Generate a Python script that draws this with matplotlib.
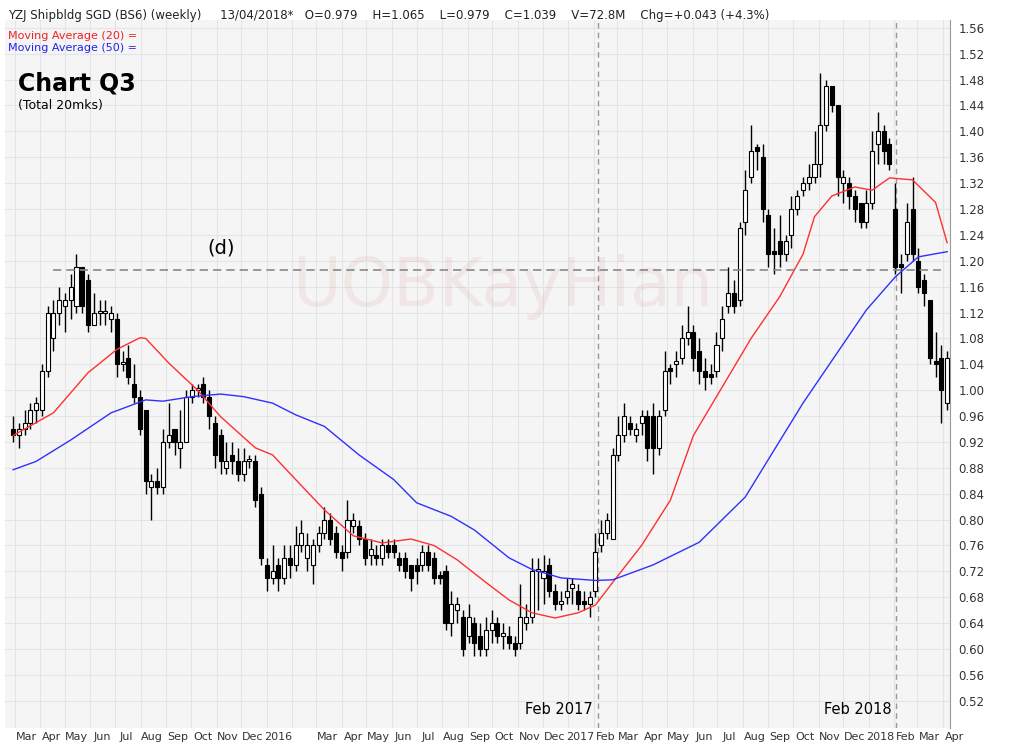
import pandas as pd
import numpy as np
import matplotlib
matplotlib.use("Agg")
import matplotlib.pyplot as plt
import matplotlib.transforms as mtransforms

# Weekly candles (open, close, high, low), Mar 2015 - Apr 2018
opens = [0.94, 0.93, 0.94, 0.95, 0.97, 0.97, 1.03, 1.08, 1.12, 1.13, 1.14, 1.13, 1.19, 1.17, 1.10, 1.12, 1.12, 1.11, 1.11, 1.04,
         1.05, 1.01, 0.99, 0.97, 0.85, 0.86, 0.85, 0.92, 0.94, 0.91, 0.92, 0.99, 1.00, 1.01, 0.99, 0.95, 0.93, 0.88, 0.90, 0.89,
         0.87, 0.89, 0.89, 0.84, 0.73, 0.71, 0.73, 0.71, 0.74, 0.73, 0.76,
         0.74, 0.73, 0.76, 0.78, 0.80, 0.78, 0.75, 0.75, 0.79, 0.79, 0.77, 0.745, 0.745, 0.74, 0.76, 0.76, 0.74, 0.74, 0.73, 0.73,
         0.73, 0.75, 0.74, 0.715, 0.72, 0.64, 0.66, 0.65, 0.62, 0.64, 0.62, 0.60, 0.63, 0.64, 0.62, 0.62, 0.61, 0.61, 0.64, 0.65,
         0.72, 0.71, 0.73, 0.69, 0.67, 0.68, 0.695, 0.69, 0.675, 0.67, 0.69, 0.76, 0.78,
         0.77, 0.90, 0.93, 0.95, 0.93, 0.95, 0.96, 0.96, 0.91, 0.97, 1.035, 1.04, 1.05, 1.08, 1.09, 1.06, 1.03, 1.025, 1.03, 1.08,
         1.13, 1.15, 1.14, 1.26, 1.33, 1.375, 1.36, 1.27, 1.215, 1.23, 1.21, 1.24, 1.28, 1.31, 1.32, 1.33, 1.35, 1.41, 1.47, 1.44,
         1.32, 1.32, 1.30, 1.29, 1.26, 1.29, 1.38, 1.40, 1.38, 1.28, 1.195, 1.21, 1.28, 1.20, 1.17, 1.14, 1.045, 1.05, 0.98]
closes = [0.93, 0.94, 0.95, 0.97, 0.98, 1.03, 1.12, 1.12, 1.14, 1.14, 1.16, 1.19, 1.13, 1.10, 1.12, 1.12, 1.12, 1.12, 1.04, 1.04,
          1.02, 0.99, 0.94, 0.86, 0.86, 0.85, 0.92, 0.93, 0.92, 0.92, 0.99, 1.00, 1.00, 0.99, 0.96, 0.90, 0.89, 0.89, 0.89, 0.87,
          0.89, 0.89, 0.83, 0.74, 0.71, 0.72, 0.71, 0.74, 0.73, 0.76, 0.78,
          0.76, 0.76, 0.78, 0.80, 0.77, 0.75, 0.74, 0.80, 0.80, 0.77, 0.74, 0.755, 0.74, 0.76, 0.75, 0.75, 0.73, 0.72, 0.71, 0.72,
          0.75, 0.73, 0.71, 0.71, 0.64, 0.67, 0.67, 0.60, 0.65, 0.61, 0.60, 0.63, 0.64, 0.62, 0.625, 0.61, 0.60, 0.65, 0.65, 0.72,
          0.72, 0.72, 0.69, 0.67, 0.675, 0.69, 0.70, 0.67, 0.67, 0.68, 0.75, 0.78, 0.80,
          0.90, 0.93, 0.96, 0.94, 0.94, 0.96, 0.91, 0.91, 0.96, 1.03, 1.03, 1.045, 1.08, 1.09, 1.05, 1.03, 1.02, 1.02, 1.07, 1.11,
          1.15, 1.13, 1.25, 1.31, 1.37, 1.37, 1.28, 1.21, 1.21, 1.21, 1.23, 1.28, 1.30, 1.32, 1.33, 1.35, 1.41, 1.47, 1.44, 1.33,
          1.33, 1.30, 1.28, 1.26, 1.29, 1.37, 1.40, 1.37, 1.35, 1.19, 1.19, 1.26, 1.21, 1.16, 1.15, 1.05, 1.04, 1.00, 1.05]
highs = [0.96, 0.95, 0.97, 0.98, 0.99, 1.04, 1.13, 1.14, 1.16, 1.15, 1.18, 1.21, 1.19, 1.18, 1.15, 1.14, 1.14, 1.13, 1.12, 1.06,
         1.07, 1.04, 1.00, 0.97, 0.87, 0.88, 0.94, 0.98, 0.94, 0.97, 1.00, 1.01, 1.01, 1.02, 1.00, 0.96, 0.94, 0.92, 0.92, 0.91,
         0.91, 0.90, 0.90, 0.85, 0.74, 0.76, 0.74, 0.76, 0.76, 0.79, 0.80,
         0.78, 0.77, 0.79, 0.82, 0.81, 0.79, 0.76, 0.83, 0.81, 0.80, 0.78, 0.77, 0.76, 0.77, 0.77, 0.77, 0.75, 0.75, 0.73, 0.74,
         0.76, 0.76, 0.75, 0.72, 0.73, 0.69, 0.68, 0.66, 0.67, 0.65, 0.64, 0.65, 0.66, 0.65, 0.64, 0.635, 0.62, 0.70, 0.67, 0.74,
         0.74, 0.745, 0.74, 0.70, 0.69, 0.71, 0.71, 0.70, 0.69, 0.69, 0.78, 0.80, 0.81,
         0.91, 0.96, 0.98, 0.96, 0.95, 0.97, 0.97, 0.98, 0.97, 1.06, 1.04, 1.06, 1.10, 1.13, 1.10, 1.08, 1.05, 1.04, 1.09, 1.13,
         1.19, 1.17, 1.26, 1.34, 1.41, 1.38, 1.38, 1.28, 1.25, 1.27, 1.24, 1.30, 1.31, 1.33, 1.35, 1.40, 1.49, 1.48, 1.47, 1.36,
         1.34, 1.33, 1.31, 1.29, 1.31, 1.40, 1.43, 1.41, 1.39, 1.32, 1.21, 1.29, 1.33, 1.22, 1.18, 1.14, 1.09, 1.07, 1.06]
lows = [0.92, 0.91, 0.93, 0.94, 0.95, 0.96, 1.02, 1.06, 1.10, 1.09, 1.11, 1.12, 1.12, 1.09, 1.10, 1.10, 1.10, 1.09, 1.02, 1.03,
        1.01, 0.98, 0.93, 0.84, 0.80, 0.84, 0.84, 0.91, 0.90, 0.88, 0.92, 0.98, 0.99, 0.98, 0.94, 0.88, 0.87, 0.87, 0.87, 0.86,
        0.86, 0.88, 0.82, 0.73, 0.69, 0.70, 0.69, 0.70, 0.71, 0.72, 0.75,
        0.72, 0.70, 0.75, 0.77, 0.76, 0.74, 0.72, 0.74, 0.78, 0.76, 0.73, 0.73, 0.73, 0.73, 0.74, 0.74, 0.72, 0.71, 0.69, 0.70,
        0.72, 0.72, 0.70, 0.70, 0.63, 0.62, 0.64, 0.59, 0.61, 0.59, 0.59, 0.59, 0.61, 0.61, 0.60, 0.60, 0.59, 0.60, 0.63, 0.64,
        0.66, 0.67, 0.68, 0.66, 0.66, 0.67, 0.67, 0.66, 0.66, 0.65, 0.68, 0.75, 0.77,
        0.77, 0.89, 0.92, 0.93, 0.92, 0.93, 0.89, 0.87, 0.90, 0.96, 1.01, 1.02, 1.04, 1.07, 1.03, 1.01, 1.00, 1.01, 1.02, 1.06,
        1.12, 1.12, 1.13, 1.24, 1.32, 1.34, 1.26, 1.19, 1.18, 1.19, 1.20, 1.22, 1.27, 1.30, 1.31, 1.32, 1.33, 1.40, 1.43, 1.30,
        1.29, 1.28, 1.26, 1.25, 1.25, 1.28, 1.35, 1.35, 1.34, 1.18, 1.15, 1.20, 1.20, 1.15, 1.13, 1.04, 1.02, 0.95, 0.97]

# Moving averages (week index, value)
ma20_weeks = [0, 7, 13, 18, 22, 23, 27, 32, 36, 42, 45, 49, 54, 59, 64, 69, 73, 77, 82, 86, 90, 94, 98, 101, 104, 109, 114,
              118, 123, 128, 133, 137, 139, 142, 146, 149, 152, 156, 160, 162]
ma20_vals = [0.93, 0.965, 1.027, 1.063, 1.081, 1.08, 1.042, 1.0, 0.959, 0.911, 0.90, 0.862, 0.815, 0.775, 0.764, 0.77, 0.76,
             0.738, 0.703, 0.676, 0.656, 0.648, 0.656, 0.668, 0.703, 0.76, 0.83, 0.93, 1.005, 1.08, 1.145, 1.21, 1.268, 1.30,
             1.314, 1.309, 1.328, 1.325, 1.29, 1.228]
ma50_weeks = [0, 4, 10, 17, 23, 26, 31, 36, 40, 45, 49, 54, 60, 66, 70, 76, 80, 86, 90, 95, 101, 104, 111, 119, 127, 137,
              148, 153, 157, 162]
ma50_vals = [0.877, 0.89, 0.923, 0.965, 0.985, 0.983, 0.99, 0.994, 0.99, 0.98, 0.962, 0.944, 0.90, 0.862, 0.826, 0.805,
             0.784, 0.741, 0.723, 0.71, 0.706, 0.707, 0.73, 0.765, 0.835, 0.98, 1.124, 1.175, 1.206, 1.214]

month_labels = ["Mar", "Apr", "May", "Jun", "Jul", "Aug", "Sep", "Oct", "Nov", "Dec", "2016", "", "Mar", "Apr", "May",
                "Jun", "Jul", "Aug", "Sep", "Oct", "Nov", "Dec", "2017", "Feb", "Mar", "Apr", "May", "Jun", "Jul", "Aug",
                "Sep", "Oct", "Nov", "Dec", "2018", "Feb", "Mar", "Apr"]
y_ticks = np.round(np.arange(0.52, 1.561, 0.04), 2)
resistance = 1.185
start = pd.Timestamp("2015-02-27")

fig = plt.figure(figsize=(10.24, 7.44), dpi=100)
ax = fig.add_axes([5 / 1024, 16 / 744, 945 / 1024, 708 / 744])
ax.set_facecolor("#f5f5f5")

n = len(closes)
x = np.arange(n)
for i in range(n):
    o, c, h, l = opens[i], closes[i], highs[i], lows[i]
    ax.vlines(x[i], l, h, color="black", lw=1, zorder=3)
    up = c >= o
    ax.bar(x[i], abs(c - o) if abs(c - o) > 0.002 else 0.003, bottom=min(o, c), width=0.7,
           color="white" if up else "black", edgecolor="black", lw=0.8, zorder=4)

ax.plot(ma20_weeks, ma20_vals, color="#ff3030", lw=1, zorder=5)
ax.plot(ma50_weeks, ma50_vals, color="#3030ff", lw=1, zorder=5)

# month grid and labels
label_tr = mtransforms.blended_transform_factory(ax.transData, fig.transFigure)
month_starts = pd.date_range("2015-03-01", "2018-04-01", freq="MS")
for d, lab in zip(month_starts, month_labels):
    pos = (d - start).days / 7
    ax.axvline(pos, color="#e4e4e4", lw=0.8, zorder=0)
    mid = (d + pd.Timedelta(days=14) - start).days / 7
    ax.text(mid, 1 - 737 / 744, lab, transform=label_tr,
            ha="center", va="center", fontsize=8, color="#333333", clip_on=False)

for v in y_ticks:
    ax.axhline(v, color="#e4e4e4", lw=0.8, zorder=0)
ax.set_xlim(-1.4, 162.5)
ax.set_ylim(0.478, 1.572)
ax.set_xticks([])
ax.yaxis.tick_right()
ax.set_yticks(y_ticks)
ax.set_yticklabels([f"{v:.2f}" for v in y_ticks], fontsize=8.5, color="#333333")
ax.tick_params(axis="y", length=0, pad=6)
for s in ["top", "left", "bottom"]:
    ax.spines[s].set_visible(False)
ax.spines["right"].set_color("#999999")

# resistance line and year markers
ax.hlines(resistance, 7, 161, colors="#888888", linestyles=(0, (5, 3)), lw=1.2, zorder=6)
ax.text(36, 1.205, "(d)", fontsize=14, ha="center", va="bottom")
for wk, lab in [(101.4, "Feb 2017"), (153.1, "Feb 2018")]:
    ax.axvline(wk, color="#999999", ls=(0, (4, 3)), lw=1, zorder=2)
    ax.text(wk - 0.8, 0.495, lab, ha="right", va="bottom", fontsize=10.5)

ax.text(85, 1.16, "UOBKayHian", fontsize=48, color="#d08080", alpha=0.12, ha="center", va="center", zorder=1)

fig.text(8 / 1024, 1 - 15 / 744, "YZJ Shipbldg SGD (BS6) (weekly)     13/04/2018*   O=0.979    H=1.065    L=0.979    C=1.039    V=72.8M    Chg=+0.043 (+4.3%)",
         fontsize=8.5, va="center", color="#222222")
fig.text(8 / 1024, 1 - 36 / 744, "Moving Average (20) =", fontsize=8, color="#ee2222", va="center")
fig.text(8 / 1024, 1 - 48 / 744, "Moving Average (50) =", fontsize=8, color="#2222ee", va="center")
fig.text(18 / 1024, 1 - 84 / 744, "Chart Q3", fontsize=17, fontweight="bold", va="center")
fig.text(18 / 1024, 1 - 106 / 744, "(Total 20mks)", fontsize=9, va="center")

fig.savefig("out.png", dpi=100, facecolor="white")
